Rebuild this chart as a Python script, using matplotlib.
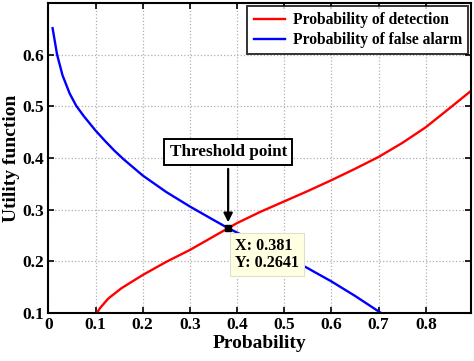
import numpy as np
import matplotlib.pyplot as plt

# values
pd_x = [0.100, 0.110, 0.127, 0.155, 0.20, 0.25, 0.30, 0.35, 0.381, 0.40, 0.45, 0.50,
        0.55, 0.60, 0.65, 0.70, 0.75, 0.80, 0.85, 0.896]
pd_y = [0.096, 0.110, 0.128, 0.148, 0.1735, 0.199, 0.222, 0.248, 0.2641, 0.274, 0.296, 0.316,
        0.336, 0.357, 0.379, 0.402, 0.429, 0.4595, 0.496, 0.530]

pfa_x = [0.009, 0.0185, 0.030, 0.045, 0.059, 0.075, 0.10, 0.12, 0.14, 0.16, 0.20, 0.25,
         0.30, 0.35, 0.381, 0.45, 0.50, 0.549, 0.60, 0.65, 0.705]
pfa_y = [0.651, 0.600, 0.560, 0.525, 0.501, 0.481, 0.453, 0.433, 0.414, 0.397, 0.366, 0.334,
         0.306, 0.280, 0.2641, 0.233, 0.211, 0.187, 0.161, 0.133, 0.100]

thr_x, thr_y = 0.381, 0.2641

plt.rcParams['font.family'] = 'Liberation Serif'
plt.rcParams['font.weight'] = 'bold'

fig, ax = plt.subplots(figsize=(4.74, 3.61), dpi=100)
fig.subplots_adjust(left=0.102, right=0.994, top=0.992, bottom=0.133)

ax.plot(pd_x, pd_y, color='red', lw=1.7, label='Probability of detection')
ax.plot(pfa_x, pfa_y, color='blue', lw=1.7, label='Probability of false alarm')
ax.plot(thr_x, thr_y, 's', color='black', ms=5)

ax.set_xlim(0, 0.896)
ax.set_ylim(0.1, 0.7)
ax.set_xticks(np.arange(0, 0.81, 0.1))
ax.set_xticklabels(['0', '0.1', '0.2', '0.3', '0.4', '0.5', '0.6', '0.7', '0.8'])
ax.set_yticks(np.arange(0.1, 0.61, 0.1))
ax.set_yticklabels(['0.1', '0.2', '0.3', '0.4', '0.5', '0.6'])
ax.tick_params(direction='in', top=True, right=True, labelsize=12.5, length=4, width=1.2, pad=3)
ax.grid(True, color='#b0b0b0', linestyle=':', lw=0.9)
for s in ax.spines.values():
    s.set_linewidth(1.5)

ax.set_xlabel('Probability', fontsize=14, fontweight='bold', labelpad=1)
ax.set_ylabel('Utility function', fontsize=14, fontweight='bold', labelpad=2)

ax.annotate('Threshold point', xy=(thr_x, thr_y + 0.006), xytext=(thr_x, 0.411),
            ha='center', va='center', fontsize=12.3, fontweight='bold',
            bbox=dict(boxstyle='square,pad=0.3', fc='white', ec='black', lw=1.4),
            arrowprops=dict(arrowstyle='-|>', color='black', lw=1.6, mutation_scale=13))

ax.text(0.395, 0.213, 'X: 0.381\nY: 0.2641', ha='left', va='center', fontsize=11.6,
        fontweight='bold', linespacing=1.05,
        bbox=dict(boxstyle='square,pad=0.3', fc='#ffffe1', ec='#e0e0c8', lw=0.8))

leg = ax.legend(loc='upper right', fontsize=11.2, frameon=True, fancybox=False,
                borderaxespad=0.2, handlelength=2.0, handletextpad=0.5,
                borderpad=0.4, labelspacing=0.25)
leg.get_frame().set_edgecolor('black')
leg.get_frame().set_linewidth(1.4)
for t in leg.get_texts():
    t.set_fontweight('bold')

plt.savefig('out.png', dpi=100)
